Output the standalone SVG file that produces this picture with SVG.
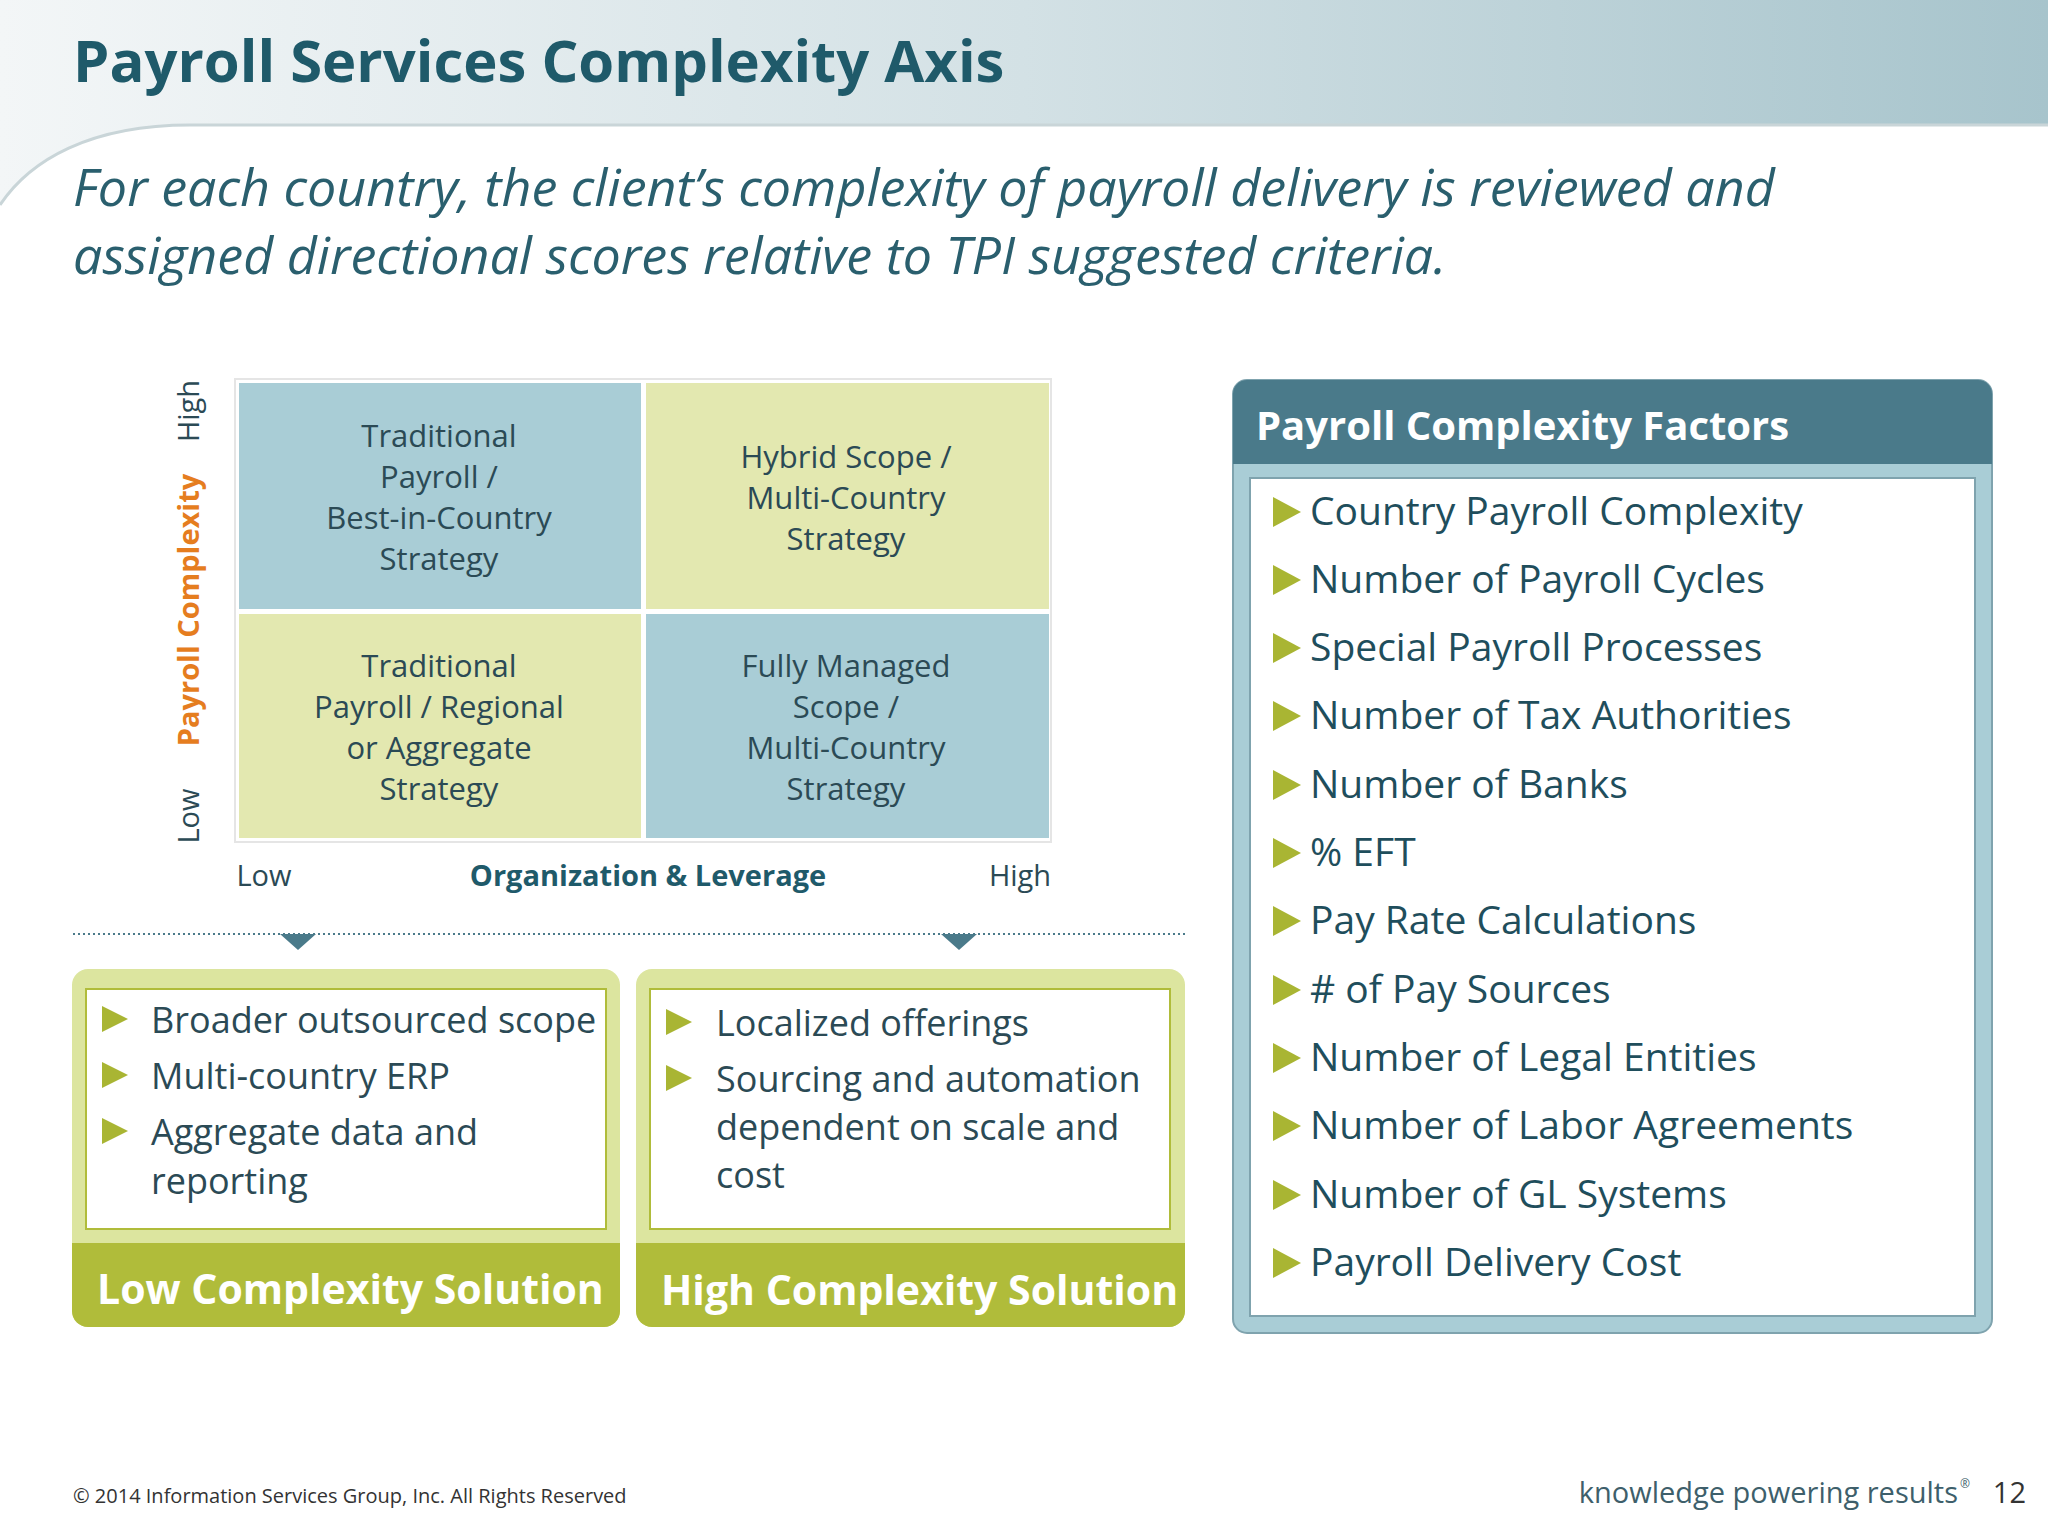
<svg xmlns="http://www.w3.org/2000/svg" width="2048" height="1536" viewBox="0 0 2048 1536">
<defs>
<linearGradient id="hdr" x1="0" y1="0" x2="1" y2="0">
<stop offset="0" stop-color="#f3f6f7"/><stop offset="0.5" stop-color="#d3e1e5"/><stop offset="1" stop-color="#a7c4cc"/>
</linearGradient>
<style>
.t{font-family:"Open Sans","Noto Sans",sans-serif}
.cell{font-size:31px;fill:#2b4a55;text-anchor:middle}
.bul{font-size:36px;fill:#2b4a55}
.fac{font-size:39px;fill:#1f4e5c}
.bar{font-size:41px;fill:#fff;font-weight:bold}
.tri{fill:#a9b533}
</style>
</defs>
<rect width="2048" height="1536" fill="#fff"/>
<path d="M0,0 H2048 V125 H190 C90,125 30,160 0,205 Z" fill="url(#hdr)"/>
<path d="M2048,125 H190 C90,125 30,160 0,205" fill="none" stroke="#c9d5d8" stroke-width="3"/>
<text class="t" x="73" y="82" font-size="58" font-weight="bold" fill="#1f5a6a">Payroll Services Complexity Axis</text>
<text class="t" x="73" y="206" font-size="52" font-style="italic" fill="#2a5f6e">For each country, the client’s complexity of payroll delivery is reviewed and</text>
<text class="t" x="73" y="274" font-size="52" font-style="italic" fill="#2a5f6e">assigned directional scores relative to TPI suggested criteria.</text>

<g id="matrix">
<rect x="235" y="379" width="816" height="463" fill="#fff" stroke="#e5e5e5" stroke-width="2"/>
<rect x="239" y="383" width="402" height="226" fill="#a9cdd6"/>
<rect x="646" y="383" width="403" height="226" fill="#e3e8b0"/>
<rect x="239" y="614" width="402" height="224" fill="#e3e8b0"/>
<rect x="646" y="614" width="403" height="224" fill="#a9cdd6"/>
<text class="t cell"><tspan x="439" y="447">Traditional</tspan><tspan x="439" y="488">Payroll /</tspan><tspan x="439" y="529">Best-in-Country</tspan><tspan x="439" y="570">Strategy</tspan></text>
<text class="t cell"><tspan x="846" y="468">Hybrid Scope /</tspan><tspan x="846" y="509">Multi-Country</tspan><tspan x="846" y="550">Strategy</tspan></text>
<text class="t cell"><tspan x="439" y="677">Traditional</tspan><tspan x="439" y="718">Payroll / Regional</tspan><tspan x="439" y="759">or Aggregate</tspan><tspan x="439" y="800">Strategy</tspan></text>
<text class="t cell"><tspan x="846" y="677">Fully Managed</tspan><tspan x="846" y="718">Scope /</tspan><tspan x="846" y="759">Multi-Country</tspan><tspan x="846" y="800">Strategy</tspan></text>
<g class="t" font-size="29" text-anchor="middle">
<text transform="translate(199,411) rotate(-90)" fill="#2b4a55">High</text>
<text transform="translate(199,610) rotate(-90)" fill="#e57d1f" font-weight="bold">Payroll Complexity</text>
<text transform="translate(199,816) rotate(-90)" fill="#2b4a55">Low</text>
<text x="264" y="886" fill="#2b4a55">Low</text>
<text x="648" y="886" fill="#1f5a6a" font-weight="bold">Organization &amp; Leverage</text>
<text x="1020" y="886" fill="#2b4a55">High</text>
</g>
</g>

<g id="connectors">
<line x1="73" y1="934" x2="1185" y2="934" stroke="#4a7a8a" stroke-width="2" stroke-dasharray="2,3"/>
<path d="M280,934 h36 l-18,16 Z" fill="#4a7a8a"/>
<path d="M941,934 h36 l-18,16 Z" fill="#4a7a8a"/>
</g>

<g id="low-box">
<rect x="72" y="969" width="548" height="358" rx="16" fill="#dce59f"/>
<path d="M72,1243 H620 V1311 a16,16 0 0 1 -16,16 H88 a16,16 0 0 1 -16,-16 Z" fill="#b0bc3a"/>
<rect x="86" y="989" width="520" height="240" fill="#fff" stroke="#b0bc3a" stroke-width="2"/>
<text class="t bar" x="97" y="1304">Low Complexity Solution</text>
<path class="tri" d="M102,1006 l26,13 l-26,13 Z"/><text class="t bul" x="151" y="1033">Broader outsourced scope</text>
<path class="tri" d="M102,1062 l26,13 l-26,13 Z"/><text class="t bul" x="151" y="1089">Multi-country ERP</text>
<path class="tri" d="M102,1118 l26,13 l-26,13 Z"/><text class="t bul" x="151" y="1145">Aggregate data and</text>
<text class="t bul" x="151" y="1194">reporting</text>
</g>

<g id="high-box">
<rect x="636" y="969" width="549" height="358" rx="16" fill="#dce59f"/>
<path d="M636,1243 H1185 V1311 a16,16 0 0 1 -16,16 H652 a16,16 0 0 1 -16,-16 Z" fill="#b0bc3a"/>
<rect x="650" y="989" width="520" height="240" fill="#fff" stroke="#b0bc3a" stroke-width="2"/>
<text class="t bar" x="661" y="1305">High Complexity Solution</text>
<path class="tri" d="M666,1009 l26,13 l-26,13 Z"/><text class="t bul" x="716" y="1036">Localized offerings</text>
<path class="tri" d="M666,1065 l26,13 l-26,13 Z"/><text class="t bul" x="716" y="1092">Sourcing and automation</text>
<text class="t bul" x="716" y="1140">dependent on scale and</text>
<text class="t bul" x="716" y="1188">cost</text>
</g>

<g id="factors">
<rect x="1233" y="380" width="759" height="953" rx="14" fill="#a9cdd6" stroke="#7fa3ae" stroke-width="2"/>
<path d="M1233,464 V394 a14,14 0 0 1 14,-14 H1978 a14,14 0 0 1 14,14 V464 Z" fill="#4a7a8a"/>
<text class="t" x="1256" y="440" font-size="40" font-weight="bold" fill="#fff">Payroll Complexity Factors</text>
<rect x="1250" y="478" width="725" height="838" fill="#fff" stroke="#7fa3ae" stroke-width="2"/>
<g class="t fac">
<path class="tri" d="M1273,497 l28,15 l-28,15 Z"/><text x="1310" y="525">Country Payroll Complexity</text>
<path class="tri" d="M1273,565 l28,15 l-28,15 Z"/><text x="1310" y="593">Number of Payroll Cycles</text>
<path class="tri" d="M1273,633 l28,15 l-28,15 Z"/><text x="1310" y="661">Special Payroll Processes</text>
<path class="tri" d="M1273,701 l28,15 l-28,15 Z"/><text x="1310" y="729">Number of Tax Authorities</text>
<path class="tri" d="M1273,770 l28,15 l-28,15 Z"/><text x="1310" y="798">Number of Banks</text>
<path class="tri" d="M1273,838 l28,15 l-28,15 Z"/><text x="1310" y="866">% EFT</text>
<path class="tri" d="M1273,906 l28,15 l-28,15 Z"/><text x="1310" y="934">Pay Rate Calculations</text>
<path class="tri" d="M1273,975 l28,15 l-28,15 Z"/><text x="1310" y="1003"># of Pay Sources</text>
<path class="tri" d="M1273,1043 l28,15 l-28,15 Z"/><text x="1310" y="1071">Number of Legal Entities</text>
<path class="tri" d="M1273,1111 l28,15 l-28,15 Z"/><text x="1310" y="1139">Number of Labor Agreements</text>
<path class="tri" d="M1273,1180 l28,15 l-28,15 Z"/><text x="1310" y="1208">Number of GL Systems</text>
<path class="tri" d="M1273,1248 l28,15 l-28,15 Z"/><text x="1310" y="1276">Payroll Delivery Cost</text>
</g>
</g>

<text class="t" x="73" y="1503" font-size="20" fill="#333">© 2014 Information Services Group, Inc. All Rights Reserved</text>
<text class="t" x="1958" y="1503" font-size="29" fill="#3e5f6b" text-anchor="end">knowledge powering results</text>
<text class="t" x="1960" y="1488" font-size="12" fill="#3e5f6b">®</text>
<text class="t" x="2026" y="1503" font-size="29" fill="#333" text-anchor="end">12</text>
</svg>
